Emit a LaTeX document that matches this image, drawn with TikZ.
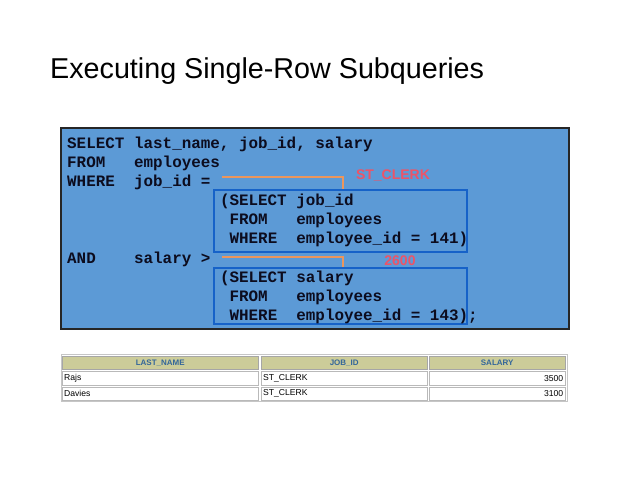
\documentclass[tikz,border=0pt]{standalone}
\usepackage{fontspec}
\setmainfont{Liberation Sans}
\newfontfamily\sqlfont{Liberation Mono}
\definecolor{panel}{RGB}{92,154,214}
\definecolor{subline}{RGB}{22,98,200}
\definecolor{feedline}{RGB}{236,150,92}
\definecolor{result}{RGB}{236,84,104}
\definecolor{ink}{RGB}{12,12,30}
\definecolor{khaki}{RGB}{204,204,153}
\definecolor{headink}{RGB}{51,102,153}
\begin{document}
\begin{tikzpicture}[x=1pt, y=-1pt,
  code/.style={anchor=base west, inner sep=0, text=ink, font=\sqlfont\bfseries\fontsize{15.9}{19}\selectfont},
  subbox/.style={draw=subline, line width=1.6, anchor=north west, minimum width=253, inner sep=0},
  feed/.style={draw=feedline, line width=2.4},
  value/.style={text=result, font=\bfseries\fontsize{14}{16}\selectfont, inner sep=0},
  cell/.style={draw=gray!55, fill=white, anchor=north west, inner xsep=2, inner ysep=0, minimum height=13, font=\fontsize{8.6}{10}\selectfont},
  head/.style={cell, fill=khaki, draw=gray!70, align=center, text=headink, font=\bfseries\fontsize{8}{10}\selectfont}]
\useasboundingbox (0,0) rectangle (638,478);
% title
\node (title) [anchor=base west, inner sep=0, font=\fontsize{28.7}{34}\selectfont] at (50,79) {Executing Single-Row Subqueries};
% query panel
\node (panel) [draw=black!85, line width=1.6, fill=panel, anchor=north west, minimum width=508, minimum height=201, inner sep=0] at (60,127) {};
\node (sub1) [subbox, minimum height=62] at (213,189) {};
\node (sub2) [subbox, minimum height=56] at (213,267) {};
\node (l0a) [code] at (67,148.5) {SELECT};
\node (l0b) [code] at (133.9,148.5) {last\_name, job\_id, salary};
\node (l1a) [code] at (67,167.6) {FROM};
\node (l1b) [code] at (133.9,167.6) {employees};
\node (l2a) [code] at (67,186.7) {WHERE};
\node (l2b) [code] at (133.9,186.7) {job\_id =};
\node (l3a) [code] at (219.8,205.8) {(SELECT};
\node (l3b) [code] at (296.2,205.8) {job\_id};
\node (l4a) [code] at (229.4,224.9) {FROM};
\node (l4b) [code] at (296.2,224.9) {employees};
\node (l5a) [code] at (229.4,244.0) {WHERE};
\node (l5b) [code] at (296.2,244.0) {employee\_id = 141)};
\node (l6a) [code] at (67,263.1) {AND};
\node (l6b) [code] at (133.9,263.1) {salary >};
\node (l7a) [code] at (219.8,282.2) {(SELECT};
\node (l7b) [code] at (296.2,282.2) {salary};
\node (l8a) [code] at (229.4,301.3) {FROM};
\node (l8b) [code] at (296.2,301.3) {employees};
\node (l9a) [code] at (229.4,320.4) {WHERE};
\node (l9b) [code] at (296.2,320.4) {employee\_id = 143);};
% feeds from the subqueries
\coordinate (eqjob) at (222,177);
\coordinate (eqsal) at (222,257);
\draw[feed] (eqjob) -| ([xshift=2.5]sub1.north);
\draw[feed] (eqsal) -| ([xshift=2.5]sub2.north);
\node (clerk) [value] at (393,175) {ST\_CLERK};
\node (pay) [value] at (400,261) {2600};
% result table
\node (table) [draw=gray!45, fill=white, anchor=north west, minimum width=506, minimum height=47, inner sep=0] at (61,354) {};
\node (h1) [head, text width=192] at (62,356) {LAST\_NAME};
\node (h2) [head, text width=162] at (261,356) {JOB\_ID};
\node (h3) [head, text width=132] at (429,356) {SALARY};
\node (r1a) [cell, text width=192, align=left, minimum height=14] at (62,371) {Rajs};
\node (r1b) [cell, text width=162, align=left, minimum height=14] at (261,371) {ST\_CLERK};
\node (r1c) [cell, text width=132, align=right, minimum height=14] at (429,371) {3500};
\node (r2a) [cell, text width=192, align=left] at (62,387) {Davies};
\node (r2b) [cell, text width=162, align=left] at (261,387) {ST\_CLERK};
\node (r2c) [cell, text width=132, align=right] at (429,387) {3100};
\end{tikzpicture}
\end{document}
